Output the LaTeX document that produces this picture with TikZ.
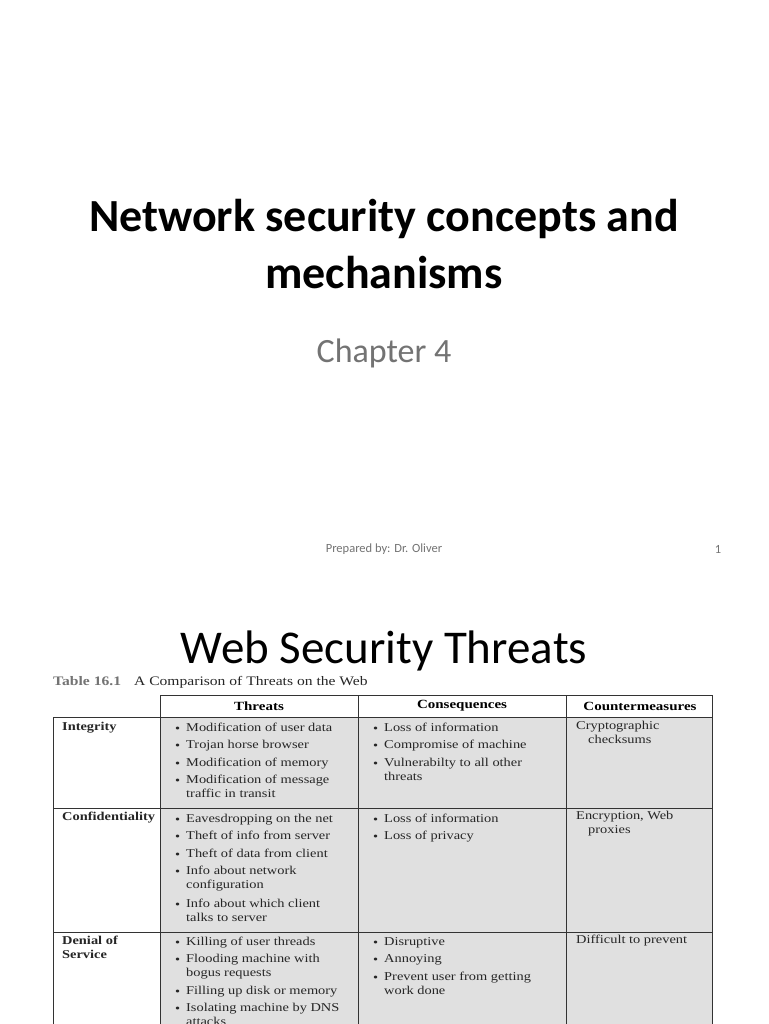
\documentclass[tikz,border=0pt]{standalone}
\usepackage{fontspec}
\setmainfont{Liberation Serif}[FakeStretch=1.2]
\newfontfamily\calfont{Carlito}
\newcommand\bul[3]{\node[tc] at (#1,#2) {\textbullet}; \node[wrap] at (#1+11,#2-7) {#3};}
\begin{document}
\begin{tikzpicture}[x=1pt,y=-1pt,
  tc/.style={inner sep=0pt,anchor=west,font=\fontsize{12}{13}\selectfont,text=black!85},
  wrap/.style={tc,anchor=north west,align=left,font=\fontsize{12}{13.5}\selectfont},
  hd/.style={inner sep=0pt,font=\fontsize{12.5}{13}\selectfont\bfseries},
  grid/.style={line width=0.9pt,draw=black!80}]
\useasboundingbox (0,0) rectangle (768,1024);
\fill[white] (0,0) rectangle (768,1024);
\node[font=\calfont\fontsize{46}{57}\selectfont\bfseries,align=center] (title) at (384,244) {Network security concepts and\\mechanisms};
\node[font=\calfont\fontsize{34}{36}\selectfont,text=black!55] (chap) at (384,353) {Chapter 4};
\node[font=\calfont\fontsize{12.5}{14}\selectfont,text=black!55] (prep) at (384,549) {Prepared by: Dr. Oliver};
\node[font=\calfont\fontsize{12.5}{14}\selectfont,text=black!55] (pg) at (718,549) {1};
\node[font=\calfont\fontsize{47}{50}\selectfont] (wst) at (384,651) {Web Security Threats};
\node[tc,font=\fontsize{13}{14}\selectfont] (cap) at (53,682) {\textcolor{black!55}{\textbf{Table 16.1}}\hspace{1em}A Comparison of Threats on the Web};
\fill[black!12] (160,717) rectangle (712,1024);
\draw[grid] (160,695) rectangle (712,717);
\draw[grid] (53,717) -- (712,717);
\draw[grid] (53,717) -- (53,1024);
\draw[grid] (160,695) -- (160,1024);
\draw[grid] (358,695) -- (358,1024);
\draw[grid] (566,695) -- (566,1024);
\draw[grid] (712,695) -- (712,1024);
\draw[grid] (53,808) -- (712,808);
\draw[grid] (53,932) -- (712,932);
\node[hd] (h1) at (259,706) {Threats};
\node[hd] (h2) at (462,706) {Consequences};
\node[hd] (h3) at (640,706) {Countermeasures};
\node[wrap,font=\fontsize{12}{13.5}\selectfont\bfseries] (r1) at (62,722) {Integrity};
\node[wrap,font=\fontsize{12}{13.5}\selectfont\bfseries] (r2) at (62,812) {Confidentiality};
\node[wrap,font=\fontsize{12}{13.5}\selectfont\bfseries] (r3) at (62,936) {Denial of\\Service};
\bul{175}{730}{Modification of user data}
\bul{175}{747}{Trojan horse browser}
\bul{175}{765}{Modification of memory}
\bul{175}{782}{Modification of message\\traffic in transit}
\bul{373}{730}{Loss of information}
\bul{373}{747}{Compromise of machine}
\bul{373}{765}{Vulnerabilty to all other\\threats}
\node[wrap] (c1) at (576,721) {Cryptographic\\\hspace*{1em}checksums};
\bul{175}{821}{Eavesdropping on the net}
\bul{175}{838}{Theft of info from server}
\bul{175}{856}{Theft of data from client}
\bul{175}{873}{Info about network\\configuration}
\bul{175}{906}{Info about which client\\talks to server}
\bul{373}{821}{Loss of information}
\bul{373}{838}{Loss of privacy}
\node[wrap] (c2) at (576,811) {Encryption, Web\\\hspace*{1em}proxies};
\bul{175}{944}{Killing of user threads}
\bul{175}{961}{Flooding machine with\\bogus requests}
\bul{175}{993}{Filling up disk or memory}
\bul{175}{1010}{Isolating machine by DNS\\attacks}
\bul{373}{944}{Disruptive}
\bul{373}{961}{Annoying}
\bul{373}{979}{Prevent user from getting\\work done}
\node[wrap] (c3) at (576,935) {Difficult to prevent};
\end{tikzpicture}
\end{document}
